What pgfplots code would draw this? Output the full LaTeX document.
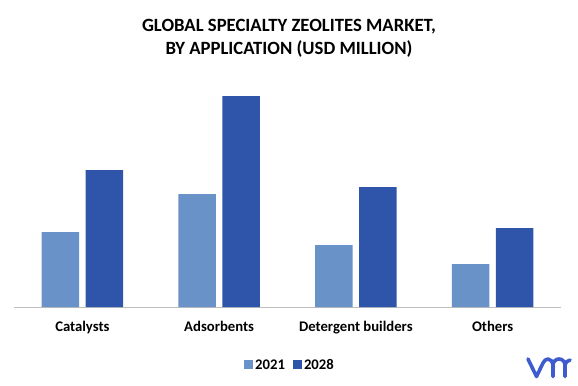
\documentclass[border=0pt]{standalone}
\usepackage{pgfplots}
\pgfplotsset{compat=1.18}
\usepackage{fontspec}
\setmainfont{Carlito}
\definecolor{c21}{RGB}{104,146,200}
\definecolor{c28}{RGB}{46,85,170}
\definecolor{axg}{RGB}{190,190,190}
\definecolor{logo}{RGB}{62,92,205}
\begin{document}
\begin{tikzpicture}[x=1bp,y=1bp]
\useasboundingbox (0,0) rectangle (578,385);
\node[font=\fontsize{18.7bp}{22.5bp}\selectfont\bfseries, align=center, anchor=center] at (289,346.5) {GLOBAL SPECIALTY ZEOLITES MARKET,\\BY APPLICATION (USD MILLION)};
\begin{axis}[
  at={(14bp,78bp)}, anchor=south west,
  scale only axis, width=547bp, height=220bp,
  xmin=-0.5, xmax=3.5, ymin=0, ymax=220,
  ybar=6.5bp, bar width=37.5bp,
  axis x line*=bottom, axis y line=none,
  x axis line style={axg, line width=1bp, -},
  xtick={0,1,2,3}, xticklabels={Catalysts,Adsorbents,Detergent builders,Others},
  xtick style={draw=none}, ytick=\empty,
  xticklabel style={font=\fontsize{14.7bp}{16bp}\selectfont\bfseries, yshift=-6bp},
  legend style={at={(0.5046,-0.2636)}, anchor=center, draw=none, legend columns=2,
    font=\fontsize{14.7bp}{16bp}\selectfont\bfseries,
    /tikz/every even column/.append style={column sep=6bp}},
  legend image code/.code={\fill[#1] (0bp,-4.5bp) rectangle (9bp,4.5bp);},
]
\addplot[fill=c21, draw=none] coordinates {(0,75) (1,113) (2,62) (3,43)};
\addplot[fill=c28, draw=none] coordinates {(0,137) (1,211) (2,120) (3,79)};
\legend{2021,2028}
\end{axis}
\draw[logo, line width=3.6bp, line cap=round, line join=round]
  (528,26) -- (536.5,8.5) -- (543,22) to[out=60,in=180] (548,26) to[out=0,in=90] (553,20) -- (553,8.5);
\draw[logo, line width=3.6bp, line cap=round, line join=round]
  (553,20) to[out=90,in=180] (559,26) to[out=0,in=90] (565,20) -- (565,8.5);
\draw[logo, line width=3.6bp, line cap=round] (565,20) to[out=90,in=200] (570,25);
\end{tikzpicture}
\end{document}
